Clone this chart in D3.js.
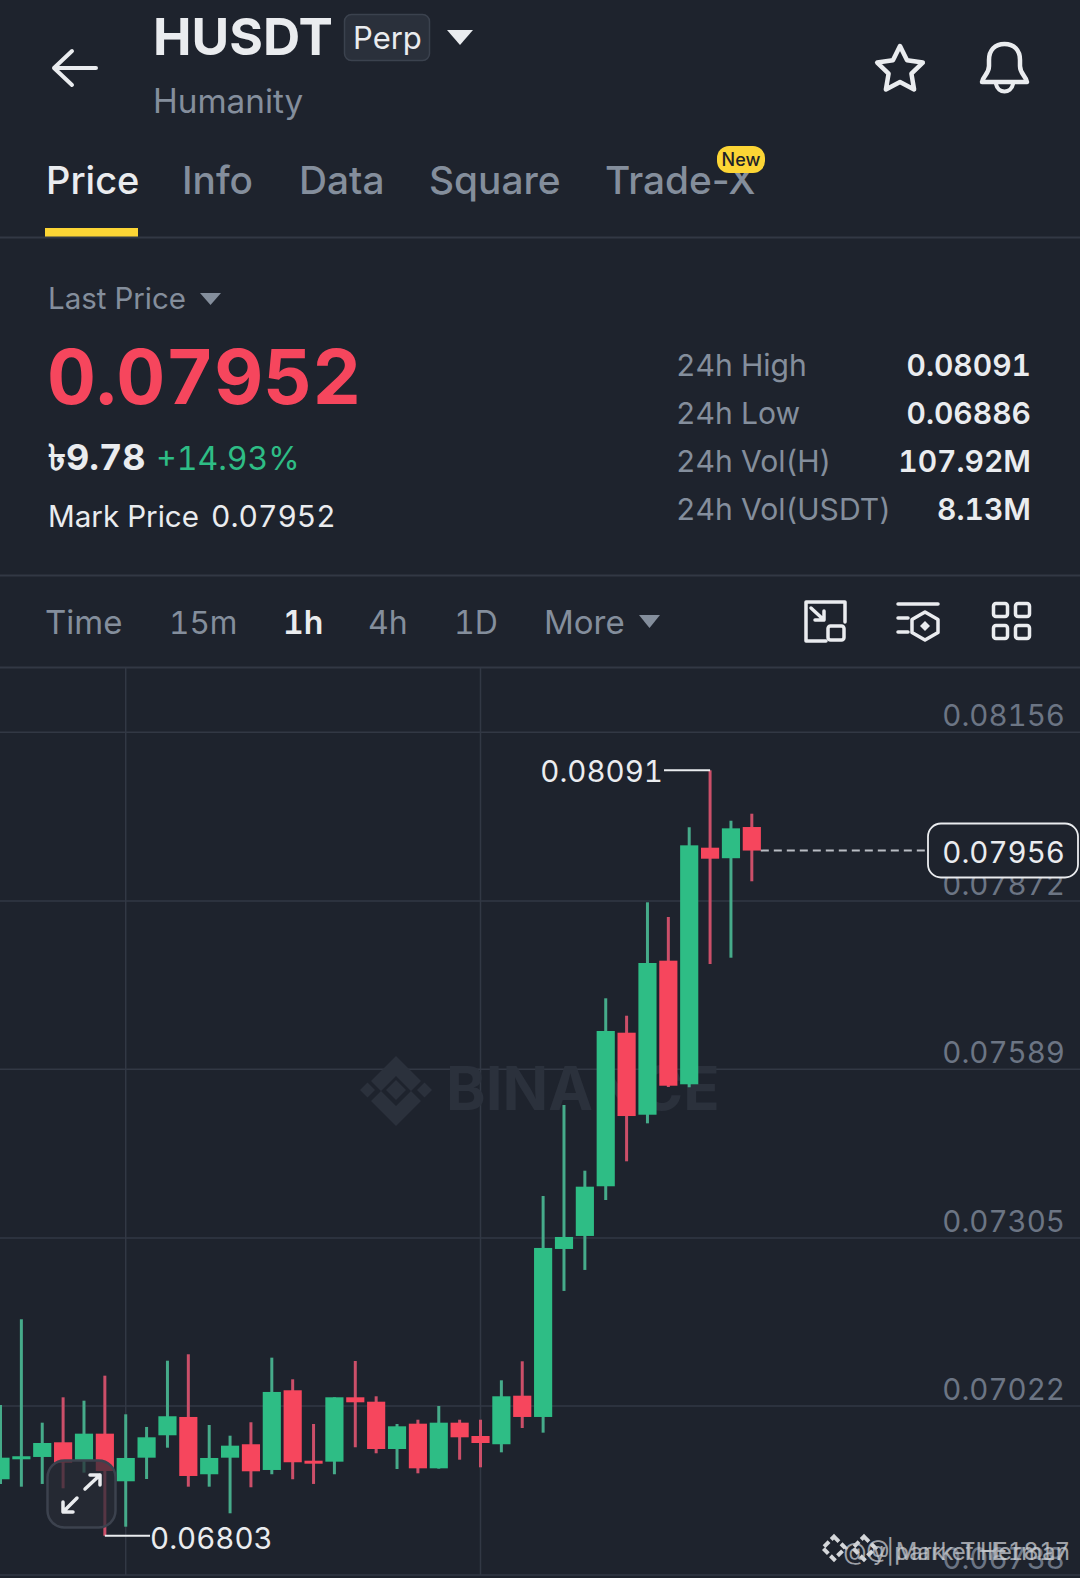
<!DOCTYPE html>
<html><head><meta charset="utf-8">
<script src="https://cdn.jsdelivr.net/npm/d3@7/dist/d3.min.js"></script>
<style>
html,body{margin:0;padding:0;background:#1e232d}
svg{display:block}
text{font-family:Inter,"Noto Sans","Noto Sans CJK SC",sans-serif;font-variant-numeric:tabular-nums}
</style></head><body><svg id="c" width="1080" height="1578"></svg>
<script>
const highs=[.070231,.071673,.069933,.070360,.070303,.070724,.070074,.069861,.070976,.071084,.069894,.069714,.069940,.071027,.070663,.069911,.070360,.070971,.070377,.069911,.069983,.070214,.069983,.069983,.070646,.070966,.073747,.075279,.074173,.077074,.076781,.078689,.078442,.079951,.08091,.080062,.080180];
const lows=[.068902,.068856,.068902,.068829,.069092,.06803,.068183,.068985,.069512,.068856,.068856,.068408,.068846,.069065,.068981,.068902,.069065,.069519,.069418,.069154,.069081,.069159,.069310,.069182,.069434,.069843,.069765,.072150,.072503,.073680,.074331,.074970,.075581,.075577,.077651,.077757,.079043];
const opens=[.068981,.069317,.069356,.069603,.069305,.069748,.068947,.069344,.069721,.070029,.069065,.069344,.069570,.069137,.070478,.069293,.069277,.070360,.070286,.069490,.069916,.069165,.069933,.069709,.069570,.070387,.070029,.072856,.073075,.073911,.076495,.075115,.077707,.075627,.079608,.079431,.079956];
const closes=[.069344,.069368,.069591,.069260,.069748,.069120,.069339,.069687,.070041,.069036,.069339,.069546,.069115,.070450,.069267,.069243,.070360,.070276,.069490,.069872,.069165,.069933,.069687,.069591,.070377,.070029,.072873,.073058,.073904,.076524,.075093,.077668,.075603,.079648,.079423,.079934,.07956];
const priceTicks=[0.08156,0.07872,0.07589,0.07305,0.07022,0.06738];
const timeGridIdx=[6,23];
const tabs=["Price","Info","Data","Square","Trade-X"];
const intervals=["Time","15m","1h","4h","1D","More"];
const statLabels=["24h High","24h Low","24h Vol(H)","24h Vol(USDT)"];
const statValues=["0.08091","0.06886","107.92M","8.13M"];
const lastPriceNow=0.07956, high24=0.08091, low24=0.06803;

const BG="#1e232d",GRID="#323844",LINE="#323844",GRAY="#848e9c",WHITE="#eaecef",UP="#2ebd85",DOWN="#f6465d",YEL="#fcd535";
const svg=d3.select("#c");
svg.append("rect").attr("width",1080).attr("height",1578).attr("fill",BG);
const T=(x,y,s,size,fill,weight,anchor,parent)=>(parent||svg).append("text").attr("x",x).attr("y",y).text(s).attr("font-size",size).attr("fill",fill).attr("font-weight",weight||400).attr("text-anchor",anchor||"start");
const P=(d,stroke,w,fill)=>svg.append("path").attr("d",d).attr("fill",fill||"none").attr("stroke",stroke||"none").attr("stroke-width",w||0).attr("stroke-linecap","round").attr("stroke-linejoin","round");

// header
P("M96 68H54M72 51L54 68L72 85",WHITE,4);
T(153,55,"HUSDT",51.5,WHITE,700);
svg.append("rect").attr("x",344.5).attr("y",14.5).attr("width",85).attr("height",46).attr("rx",7).attr("fill","#2a303b").attr("stroke","#3b424e").attr("stroke-width",1.5);
T(353,49,"Perp",31,WHITE,400);
P("M447 30H473L460 45Z",null,0,WHITE);
T(153,113,"Humanity",33.3,GRAY,400);
const star=d3.range(10).map(i=>{const r=i%2?12:24,a=i*Math.PI/5;return [r*Math.sin(a),-r*Math.cos(a)];});
P("M"+star.map(p=>[900+p[0],70+p[1]].join(" ")).join("L")+"Z",WHITE,4.5);
P("M982 82C983 76 989 74 989 66V60C989 50 995 44 1004.5 44C1014 44 1020 50 1020 60V66C1020 74 1026 76 1027 82Z",WHITE,4.5);
P("M996 84C998 94 1011 94 1013 84",WHITE,4);

// tabs
const tabX=[46,182,299,429,605];
tabs.forEach((t,i)=>T(tabX[i],194,t,i?38.8:38,i?GRAY:WHITE,500).style("font-variant-numeric","normal"));
svg.append("rect").attr("x",45).attr("y",228).attr("width",93).attr("height",9).attr("fill",YEL);
svg.append("rect").attr("x",0).attr("y",236.5).attr("width",1080).attr("height",2).attr("fill",LINE);
svg.append("rect").attr("x",717).attr("y",146).attr("width",48).attr("height",27).attr("rx",12).attr("fill",YEL);
T(741,166,"New",18,"#1e2329",500,"middle");

// price block
T(48,309,"Last Price",29.5,GRAY,400);
P("M200 293H221L210.5 305Z",null,0,GRAY);
T(47,404,"0.07952",75.8,DOWN,700);
T(48,470,"৳9.78",36,WHITE,700);
T(156,470,"+14.93%",32,UP,400);
T(48,527,"Mark Price",29.6,WHITE,400);
T(211,527,"0.07952",30,WHITE,400);
statLabels.forEach((s,i)=>{
  const y=[375.5,423.5,472,520][i];
  T(676,y,s,30.1,GRAY,400);
  T(1031,y,statValues[i],30,WHITE,600,"end");
});
svg.append("rect").attr("x",0).attr("y",574.5).attr("width",1080).attr("height",2).attr("fill",LINE);

// interval row
const intX=[45,169,283,368,454,544];
const intSize=[33,31.5,32,32,32,33];
intervals.forEach((t,i)=>T(intX[i],634,t,intSize[i],i==2?WHITE:GRAY,i==2?600:400));
P("M639 615H660L649.5 628Z",null,0,GRAY);
// icons
P("M845 622V602H806V641H826",WHITE,3.5);
svg.append("rect").attr("x",828).attr("y",626).attr("width",16).attr("height",14).attr("rx",2.5).attr("fill","none").attr("stroke",WHITE).attr("stroke-width",3.5);
P("M811 608L824 620M824 611V620H815",WHITE,3.5);
P("M898 604H938M898 618H908M898 632H908",WHITE,3.5);
P("M925 612L938 619.5V632.5L925 640L912 632.5V619.5Z",WHITE,3.5);
P("M925 621L930 626L925 631L920 626Z",null,0,WHITE);
[[992,602],[1014,602],[992,624],[1014,624]].forEach(p=>svg.append("rect").attr("x",p[0]+1.5).attr("y",p[1]+1.5).attr("width",14).attr("height",13).attr("rx",2.5).attr("fill","none").attr("stroke",WHITE).attr("stroke-width",3.5));
svg.append("rect").attr("x",0).attr("y",666.5).attr("width",1080).attr("height",2).attr("fill",LINE);

// chart scales
const idx=d3.range(highs.length);
const x=d3.scaleBand().domain(idx).range([-9.935,762.25]).paddingInner(.13).paddingOuter(.065);
const y=d3.scaleLinear().domain([0.06738,0.08156]).range([1574.4,731.7]);
const cx=i=>x(i)+x.bandwidth()/2;

// grid + axis
const ax=d3.axisLeft(y).tickValues(priceTicks).tickSize(1080).tickFormat(d3.format(".5f"));
const axG=svg.append("g").attr("transform","translate(1080,0)").call(ax);
axG.select(".domain").remove();
axG.selectAll("line").attr("stroke",GRID).attr("stroke-width",1.5);
axG.selectAll("text").attr("x",-15).attr("dy",-6).attr("text-anchor","end").attr("font-size",29.5).attr("fill","#6c7584").attr("font-family","Inter");
svg.append("g").selectAll("line").data(timeGridIdx).join("line")
 .attr("x1",cx).attr("x2",cx).attr("y1",668).attr("y2",1575).attr("stroke",GRID).attr("stroke-width",1.5);

// Binance watermark
const wm=svg.append("g").attr("fill","#2b313c");
wm.append("path").attr("d","M396 1056L421 1081L411 1091L396 1076L381 1091L371 1081Z");
wm.append("path").attr("d","M396 1126L421 1101L411 1091L396 1106L381 1091L371 1101Z");
wm.append("path").attr("d","M396 1080L406 1090L396 1100L386 1090Z");
wm.append("path").attr("d","M367.5 1082.5L375 1090L367.5 1097.5L360 1090Z");
wm.append("path").attr("d","M424.5 1082.5L432 1090L424.5 1097.5L417 1090Z");
T(446,1110,"BINANCE",60,"#2b313c",700,"start",wm);

// candles
const g=svg.append("g");
const col=i=>closes[i]>=opens[i]?UP:DOWN;
g.selectAll("line.w").data(idx).join("line").attr("class","w")
 .attr("x1",cx).attr("x2",cx).attr("y1",i=>y(highs[i])).attr("y2",i=>y(lows[i]))
 .attr("stroke",i=>closes[i]>=opens[i]?"#46ab8a":"#cc4f69").attr("stroke-width",3);
g.selectAll("rect.b").data(idx).join("rect").attr("class","b")
 .attr("x",i=>x(i)).attr("width",x.bandwidth())
 .attr("y",i=>y(Math.max(opens[i],closes[i])))
 .attr("height",i=>Math.max(2,Math.abs(y(opens[i])-y(closes[i]))))
 .attr("fill",col);

// high / low annotations
const hi=highs.indexOf(d3.max(highs)),lo=lows.indexOf(d3.min(lows));
svg.append("path").attr("d",`M${cx(hi)} ${y(high24)}H664`).attr("stroke",WHITE).attr("stroke-width",2).attr("fill","none");
T(663,782,d3.format(".5f")(high24),29.5,WHITE,400,"end");
svg.append("path").attr("d",`M${cx(lo)} ${y(low24)}H150`).attr("stroke",WHITE).attr("stroke-width",2).attr("fill","none");
T(150,1549,d3.format(".5f")(low24),29.5,WHITE,400);

// current price tag
svg.append("line").attr("x1",cx(36)+9).attr("x2",925).attr("y1",y(lastPriceNow)).attr("y2",y(lastPriceNow)).attr("stroke","#b9bdc4").attr("stroke-width",2).attr("stroke-dasharray","8 5");
svg.append("rect").attr("x",928).attr("y",823.5).attr("width",150).attr("height",54).attr("rx",13).attr("fill",BG).attr("stroke",WHITE).attr("stroke-width",1.8);
T(1065,863,d3.format(".5f")(lastPriceNow),29.5,WHITE,400,"end");

// expand button
svg.append("rect").attr("x",47.5).attr("y",1460.5).attr("width",68).attr("height",67).attr("rx",17).attr("fill","rgba(40,44,54,.72)").attr("stroke","#3c424e").attr("stroke-width",2.5);
P("M85 1489L100 1475M90 1475H100V1485",WHITE,3.5);
P("M77 1498L63 1512M63 1502V1512H73",WHITE,3.5);

// footer watermark
[[834,1548],[864,1548]].forEach(p=>{
 svg.append("rect").attr("x",p[0]-8).attr("y",p[1]-8).attr("width",16).attr("height",16).attr("transform",`rotate(45 ${p[0]} ${p[1]})`).attr("fill","none").attr("stroke","#d5d7da").attr("stroke-width",4).attr("stroke-dasharray","7 3");
});
T(1070,1560,"@ Mark THE1817",24,"#c9ccd1",400,"end").attr("opacity",.75);
T(1070,1560,"@ y|park et Herman",24,"#c9ccd1",400,"end").attr("opacity",.75);
</script></body></html>
